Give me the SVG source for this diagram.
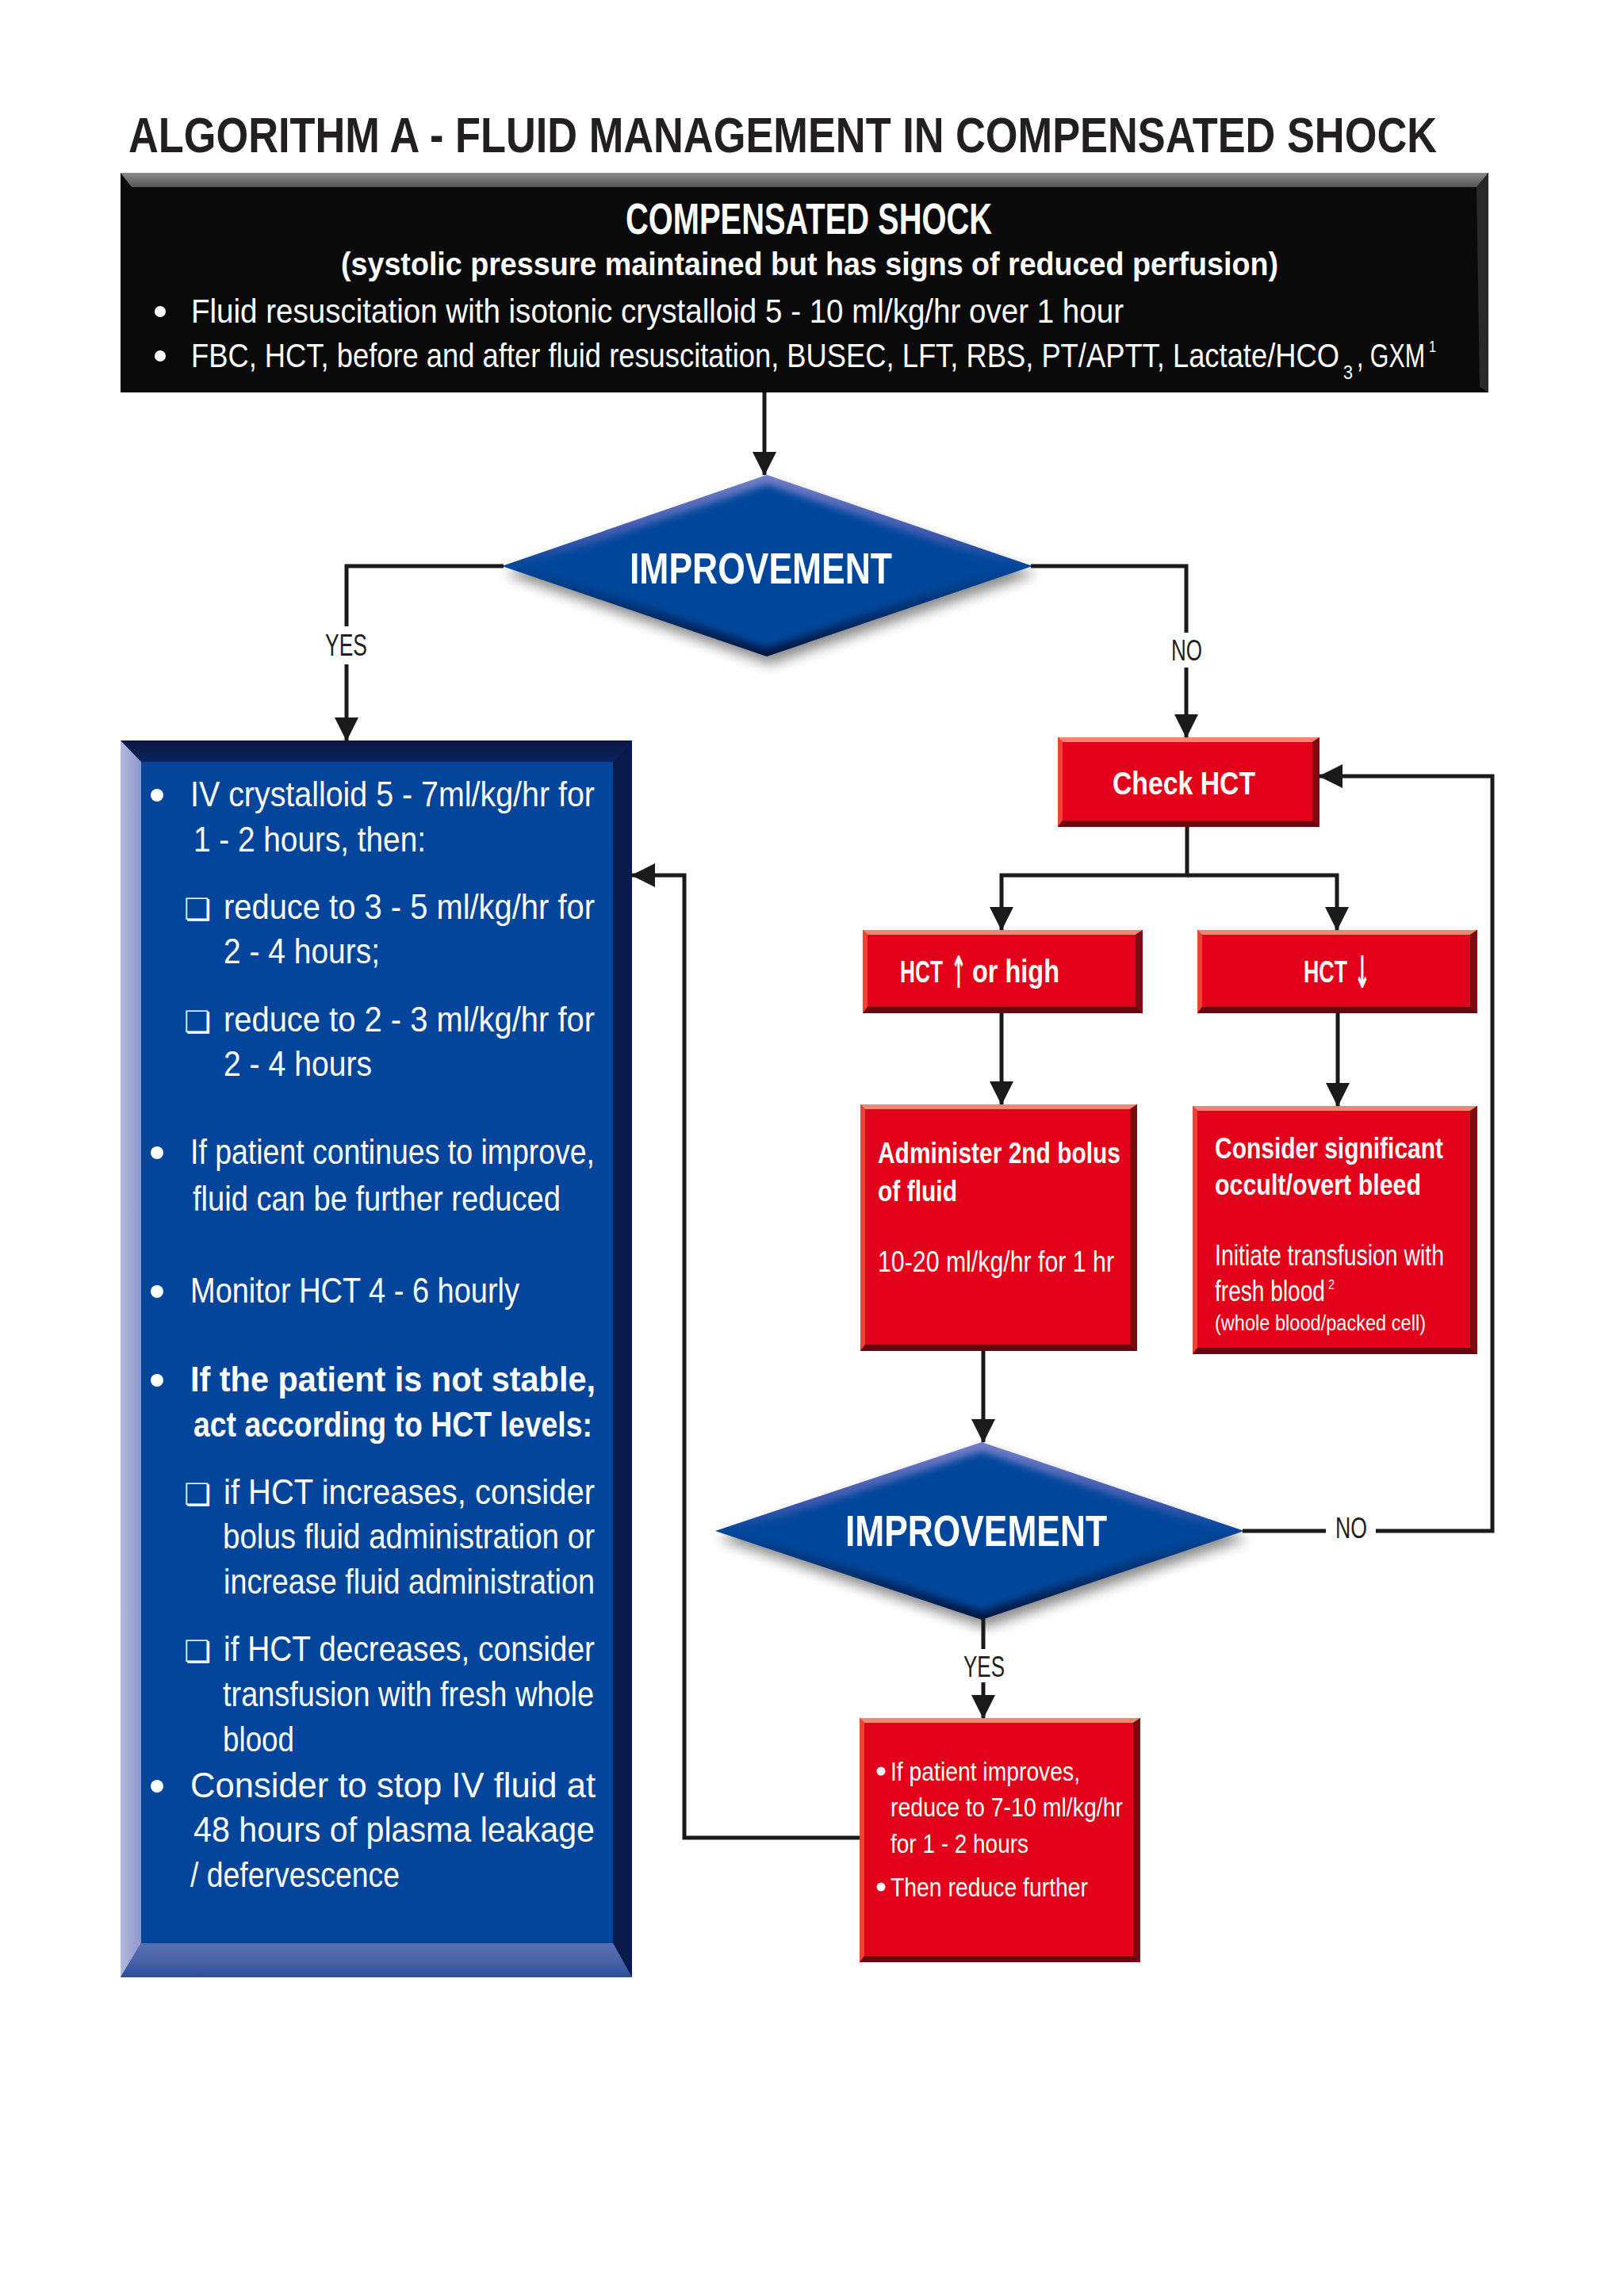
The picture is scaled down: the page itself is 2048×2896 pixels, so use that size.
<svg xmlns="http://www.w3.org/2000/svg" width="2048" height="2896" viewBox="0 0 2048 2896">
<defs>
<style>
.f{font-family:"Liberation Sans Narrow","Liberation Sans",Arial,sans-serif}
.b{font-weight:bold}
.w{fill:#ffffff}
.dk{fill:#231f20}
.cb{font-family:"DejaVu Sans",sans-serif;fill:#ffffff}
.ar{font-family:"DejaVu Sans",sans-serif;font-weight:bold;fill:#ffffff}
.ln{fill:none;stroke:#1a1a1a;stroke-width:5}
.rm{fill:#e2001a}
.rt{fill:#f3846f}
.rl{fill:#ea4436}
.rr{fill:#7d0a12}
.rb{fill:#6a0610}
</style>
<marker id="ah" markerUnits="userSpaceOnUse" markerWidth="30" markerHeight="30" refX="29" refY="15" orient="auto" viewBox="0 0 30 30">
<path d="M0,0 L30,15 L0,30 z" fill="#1a1a1a"/>
</marker>
<linearGradient id="dg" x1="0" y1="0" x2="0" y2="1">
<stop offset="0" stop-color="#7480c8"/>
<stop offset="0.35" stop-color="#3c58ae"/>
<stop offset="0.5" stop-color="#02479b"/>
<stop offset="0.75" stop-color="#02306f"/>
<stop offset="1" stop-color="#001640"/>
</linearGradient>
<linearGradient id="lg" x1="0" y1="0" x2="1" y2="0">
<stop offset="0" stop-color="#b4b9de"/>
<stop offset="1" stop-color="#8e96cb"/>
</linearGradient>
<linearGradient id="bg" x1="0" y1="0" x2="0" y2="1">
<stop offset="0" stop-color="#5670b0"/>
<stop offset="0.5" stop-color="#4a64a8"/>
<stop offset="1" stop-color="#2c4c9c"/>
</linearGradient>
<linearGradient id="tg" x1="0" y1="0" x2="0" y2="1">
<stop offset="0" stop-color="#0b1640"/>
<stop offset="1" stop-color="#0a2462"/>
</linearGradient>
<linearGradient id="kg" x1="0" y1="0" x2="0" y2="1">
<stop offset="0" stop-color="#8c8c8c"/>
<stop offset="1" stop-color="#555555"/>
</linearGradient>
<filter id="sh" x="-10%" y="-20%" width="120%" height="150%">
<feGaussianBlur stdDeviation="8"/>
</filter>
<filter id="bl" x="-10%" y="-20%" width="120%" height="140%">
<feGaussianBlur stdDeviation="5"/>
</filter>
</defs>
<rect width="2048" height="2896" fill="#ffffff"/>

<text class="f b dk" transform="translate(162,192) scale(1,1.12)" x="0" y="0" font-size="56" textLength="1650" lengthAdjust="spacingAndGlyphs">ALGORITHM A - FLUID MANAGEMENT IN COMPENSATED SHOCK</text>

<g id="shock">
<rect x="152" y="218" width="1725" height="277" fill="#0a0a0a"/>
<polygon points="152,218 1877,218 1862,236 166,236" fill="url(#kg)"/>
<polygon points="1877,218 1877,495 1866,488 1862,236" fill="#2a2a2a"/>
<text class="f b w" x="789" y="295" font-size="55" textLength="462" lengthAdjust="spacingAndGlyphs">COMPENSATED SHOCK</text>
<text class="f b w" x="430" y="347" font-size="40" textLength="1182" lengthAdjust="spacingAndGlyphs">(systolic pressure maintained  but has signs of reduced perfusion)</text>
<circle cx="202" cy="393" r="7" fill="#fff"/>
<text class="f w" x="241" y="407" font-size="42" textLength="1176" lengthAdjust="spacingAndGlyphs">Fluid resuscitation with isotonic crystalloid 5 - 10 ml/kg/hr over 1 hour</text>
<circle cx="202" cy="449" r="7" fill="#fff"/>
<text class="f w" font-size="42"><tspan x="241" y="463" textLength="1448" lengthAdjust="spacingAndGlyphs">FBC, HCT, before and after fluid resuscitation, BUSEC, LFT, RBS, PT/APTT, Lactate/HCO</tspan><tspan x="1694" y="478" font-size="24" textLength="12" lengthAdjust="spacingAndGlyphs">3</tspan><tspan x="1711" y="463" textLength="86" lengthAdjust="spacingAndGlyphs">, GXM</tspan><tspan x="1802" y="444" font-size="20" textLength="9" lengthAdjust="spacingAndGlyphs">1</tspan></text>
</g>

<g id="improvement1">
<polygon points="967,599 1302,714 967,828 633,714" fill="#000" opacity="0.45" filter="url(#sh)" transform="translate(4,10)"/>
<polygon points="967,599 1302,714 967,828 633,714" fill="url(#dg)"/>
<polygon points="967,611 1270,714 967,817 664,714" fill="#02479b" filter="url(#bl)"/>
<text class="f b w" x="794" y="736" font-size="55" textLength="331" lengthAdjust="spacingAndGlyphs">IMPROVEMENT</text>
</g>

<g id="bluebox">
<rect x="152" y="934" width="645" height="1560" fill="#02459a"/>
<polygon points="152,934 797,934 773,961 178,961" fill="url(#tg)"/>
<polygon points="152,934 178,961 178,2451 152,2494" fill="url(#lg)"/>
<polygon points="797,934 797,2494 773,2451 773,961" fill="#0a1a4a"/>
<polygon points="152,2494 178,2451 773,2451 797,2494" fill="url(#bg)"/>
<circle cx="198" cy="1003" r="8" fill="#fff"/>
<text class="f w" x="240" y="1017" font-size="44" textLength="510" lengthAdjust="spacingAndGlyphs">IV crystalloid 5 - 7ml/kg/hr for</text>
<text class="f w" x="244" y="1074" font-size="44" textLength="293" lengthAdjust="spacingAndGlyphs">1 - 2 hours, then:</text>
<text class="cb" x="232" y="1160" font-size="38">❏</text>
<text class="f w" x="282" y="1159" font-size="44" textLength="468" lengthAdjust="spacingAndGlyphs">reduce to 3 - 5 ml/kg/hr for</text>
<text class="f w" x="282" y="1215" font-size="44" textLength="197" lengthAdjust="spacingAndGlyphs">2 - 4 hours;</text>
<text class="cb" x="232" y="1302" font-size="38">❏</text>
<text class="f w" x="282" y="1301" font-size="44" textLength="468" lengthAdjust="spacingAndGlyphs">reduce to 2 - 3 ml/kg/hr for</text>
<text class="f w" x="282" y="1357" font-size="44" textLength="187" lengthAdjust="spacingAndGlyphs">2 - 4 hours</text>
<circle cx="198" cy="1454" r="8" fill="#fff"/>
<text class="f w" x="240" y="1468" font-size="44" textLength="510" lengthAdjust="spacingAndGlyphs">If patient continues to improve,</text>
<text class="f w" x="243" y="1527" font-size="44" textLength="464" lengthAdjust="spacingAndGlyphs">fluid can be further reduced</text>
<circle cx="198" cy="1629" r="8" fill="#fff"/>
<text class="f w" x="240" y="1643" font-size="44" textLength="415" lengthAdjust="spacingAndGlyphs">Monitor HCT 4 - 6 hourly</text>
<circle cx="198" cy="1741" r="8" fill="#fff"/>
<text class="f b w" x="240" y="1755" font-size="45" textLength="511" lengthAdjust="spacingAndGlyphs">If the patient is not stable,</text>
<text class="f b w" x="244" y="1812" font-size="45" textLength="503" lengthAdjust="spacingAndGlyphs">act according to HCT levels:</text>
<text class="cb" x="232" y="1898" font-size="38">❏</text>
<text class="f w" x="282" y="1897" font-size="44" textLength="468" lengthAdjust="spacingAndGlyphs">if HCT increases, consider</text>
<text class="f w" x="281" y="1953" font-size="44" textLength="469" lengthAdjust="spacingAndGlyphs">bolus fluid administration or</text>
<text class="f w" x="282" y="2010" font-size="44" textLength="468" lengthAdjust="spacingAndGlyphs">increase fluid administration</text>
<text class="cb" x="232" y="2096" font-size="38">❏</text>
<text class="f w" x="282" y="2095" font-size="44" textLength="468" lengthAdjust="spacingAndGlyphs">if HCT decreases, consider</text>
<text class="f w" x="281" y="2152" font-size="44" textLength="468" lengthAdjust="spacingAndGlyphs">transfusion with fresh whole</text>
<text class="f w" x="281" y="2209" font-size="44" textLength="90" lengthAdjust="spacingAndGlyphs">blood</text>
<circle cx="198" cy="2253" r="8" fill="#fff"/>
<text class="f w" x="240" y="2267" font-size="44" textLength="511" lengthAdjust="spacingAndGlyphs">Consider to stop IV fluid at</text>
<text class="f w" x="244" y="2323" font-size="44" textLength="506" lengthAdjust="spacingAndGlyphs">48 hours of plasma leakage</text>
<text class="f w" x="240" y="2380" font-size="44" textLength="264" lengthAdjust="spacingAndGlyphs">/ defervescence</text>
</g>

<g id="checkhct">
<rect class="rm" x="1334" y="930" width="330" height="113"/>
<polygon class="rt" points="1334,930 1664,930 1655,936 1340,936"/>
<polygon class="rl" points="1334,930 1340,936 1340,1035 1334,1043"/>
<polygon class="rr" points="1664,930 1664,1043 1655,1035 1655,936"/>
<polygon class="rb" points="1334,1043 1340,1035 1655,1035 1664,1043"/>
<text class="f b w" x="1403" y="1002" font-size="41" textLength="180" lengthAdjust="spacingAndGlyphs">Check HCT</text>
</g>

<g id="hcthigh">
<rect class="rm" x="1088" y="1173" width="353" height="105"/>
<polygon class="rt" points="1088,1173 1441,1173 1432,1179 1094,1179"/>
<polygon class="rl" points="1088,1173 1094,1179 1094,1270 1088,1278"/>
<polygon class="rr" points="1441,1173 1441,1278 1432,1270 1432,1179"/>
<polygon class="rb" points="1088,1278 1094,1270 1432,1270 1441,1278"/>
<text class="f b w" font-size="38"><tspan x="1135" y="1239" textLength="54" lengthAdjust="spacingAndGlyphs">HCT</tspan><tspan class="ar" x="1199" y="1246" font-size="56" textLength="20" lengthAdjust="spacingAndGlyphs">↑</tspan><tspan x="1226" y="1239" font-size="40" textLength="110" lengthAdjust="spacingAndGlyphs">or high</tspan></text>
</g>

<g id="hctlow">
<rect class="rm" x="1510" y="1173" width="353" height="105"/>
<polygon class="rt" points="1510,1173 1863,1173 1854,1179 1516,1179"/>
<polygon class="rl" points="1510,1173 1516,1179 1516,1270 1510,1278"/>
<polygon class="rr" points="1863,1173 1863,1278 1854,1270 1854,1179"/>
<polygon class="rb" points="1510,1278 1516,1270 1854,1270 1863,1278"/>
<text class="f b w" font-size="38"><tspan x="1644" y="1239" textLength="55" lengthAdjust="spacingAndGlyphs">HCT</tspan><tspan class="ar" x="1708" y="1246" font-size="56" textLength="20" lengthAdjust="spacingAndGlyphs">↓</tspan></text>
</g>

<g id="administer">
<rect class="rm" x="1085" y="1393" width="349" height="311"/>
<polygon class="rt" points="1085,1393 1434,1393 1425,1399 1091,1399"/>
<polygon class="rl" points="1085,1393 1091,1399 1091,1696 1085,1704"/>
<polygon class="rr" points="1434,1393 1434,1704 1425,1696 1425,1399"/>
<polygon class="rb" points="1085,1704 1091,1696 1425,1696 1434,1704"/>
<text class="f b w" x="1107" y="1467" font-size="36" textLength="306" lengthAdjust="spacingAndGlyphs">Administer 2nd bolus</text>
<text class="f b w" x="1107" y="1515" font-size="36" textLength="100" lengthAdjust="spacingAndGlyphs">of fluid</text>
<text class="f w" x="1107" y="1604" font-size="36" textLength="298" lengthAdjust="spacingAndGlyphs">10-20 ml/kg/hr for 1 hr</text>
</g>

<g id="consider">
<rect class="rm" x="1504" y="1395" width="359" height="313"/>
<polygon class="rt" points="1504,1395 1863,1395 1854,1401 1510,1401"/>
<polygon class="rl" points="1504,1395 1510,1401 1510,1700 1504,1708"/>
<polygon class="rr" points="1863,1395 1863,1708 1854,1700 1854,1401"/>
<polygon class="rb" points="1504,1708 1510,1700 1854,1700 1863,1708"/>
<text class="f b w" x="1532" y="1461" font-size="36" textLength="288" lengthAdjust="spacingAndGlyphs">Consider significant</text>
<text class="f b w" x="1532" y="1507" font-size="36" textLength="260" lengthAdjust="spacingAndGlyphs">occult/overt bleed</text>
<text class="f w" x="1532" y="1596" font-size="36" textLength="289" lengthAdjust="spacingAndGlyphs">Initiate transfusion with</text>
<text class="f w" font-size="36"><tspan x="1532" y="1641" textLength="139" lengthAdjust="spacingAndGlyphs">fresh blood</tspan><tspan x="1675" y="1626" font-size="17" textLength="8" lengthAdjust="spacingAndGlyphs">2</tspan></text>
<text class="f w" x="1532" y="1678" font-size="27" textLength="266" lengthAdjust="spacingAndGlyphs">(whole blood/packed cell)</text>
</g>

<g id="improvement2">
<polygon points="1238,1819 1569,1931 1238,2043 902,1931" fill="#000" opacity="0.45" filter="url(#sh)" transform="translate(4,10)"/>
<polygon points="1238,1819 1569,1931 1238,2043 902,1931" fill="url(#dg)"/>
<polygon points="1238,1831 1538,1931 1238,2032 933,1931" fill="#02479b" filter="url(#bl)"/>
<text class="f b w" x="1066" y="1950" font-size="55" textLength="330" lengthAdjust="spacingAndGlyphs">IMPROVEMENT</text>
</g>

<g id="improves">
<rect class="rm" x="1084" y="2167" width="354" height="308"/>
<polygon class="rt" points="1084,2167 1438,2167 1429,2173 1090,2173"/>
<polygon class="rl" points="1084,2167 1090,2173 1090,2467 1084,2475"/>
<polygon class="rr" points="1438,2167 1438,2475 1429,2467 1429,2173"/>
<polygon class="rb" points="1084,2475 1090,2467 1429,2467 1438,2475"/>
<circle cx="1111" cy="2234" r="5.5" fill="#fff"/>
<text class="f w" x="1123" y="2246" font-size="34" textLength="239" lengthAdjust="spacingAndGlyphs">If patient improves,</text>
<text class="f w" x="1123" y="2291" font-size="34" textLength="293" lengthAdjust="spacingAndGlyphs">reduce to 7-10 ml/kg/hr</text>
<text class="f w" x="1123" y="2337" font-size="34" textLength="174" lengthAdjust="spacingAndGlyphs">for 1 - 2 hours</text>
<circle cx="1111" cy="2380" r="5.5" fill="#fff"/>
<text class="f w" x="1123" y="2392" font-size="34" textLength="249" lengthAdjust="spacingAndGlyphs">Then reduce further</text>
</g>

<g id="connectors">
<path class="ln" d="M964,495 V599" marker-end="url(#ah)"/>
<path class="ln" d="M635,714 H437 V790"/>
<path class="ln" d="M437,838 V934" marker-end="url(#ah)"/>
<path class="ln" d="M1300,714 H1496 V798"/>
<path class="ln" d="M1496,842 V930" marker-end="url(#ah)"/>
<path class="ln" d="M1497,1043 V1104 H1263 V1173" marker-end="url(#ah)"/>
<path class="ln" d="M1497,1104 H1686 V1173" marker-end="url(#ah)"/>
<path class="ln" d="M1263,1278 V1393" marker-end="url(#ah)"/>
<path class="ln" d="M1687,1278 V1395" marker-end="url(#ah)"/>
<path class="ln" d="M1240,1704 V1819" marker-end="url(#ah)"/>
<path class="ln" d="M1567,1931 H1672"/>
<path class="ln" d="M1735,1931 H1882 V979 H1664" marker-end="url(#ah)"/>
<path class="ln" d="M1240,2041 V2080"/>
<path class="ln" d="M1240,2122 V2167" marker-end="url(#ah)"/>
<path class="ln" d="M1084,2318 H863 V1104 H797" marker-end="url(#ah)"/>
<text class="f dk" x="410" y="827" font-size="38" textLength="53" lengthAdjust="spacingAndGlyphs">YES</text>
<text class="f dk" x="1477" y="833" font-size="36" textLength="39" lengthAdjust="spacingAndGlyphs">NO</text>
<text class="f dk" x="1684" y="1940" font-size="36" textLength="40" lengthAdjust="spacingAndGlyphs">NO</text>
<text class="f dk" x="1215" y="2115" font-size="36" textLength="52" lengthAdjust="spacingAndGlyphs">YES</text>
</g>
</svg>
